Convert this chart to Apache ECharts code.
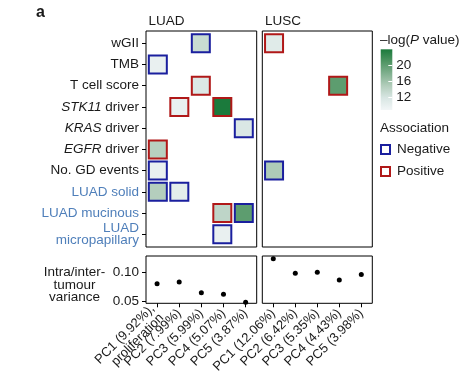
<!DOCTYPE html>
<html>
<head>
<meta charset="utf-8">
<script src="https://cdn.jsdelivr.net/npm/echarts@6/dist/echarts.min.js"></script>
<style>html,body{margin:0;padding:0;background:#fff;}#c{width:473px;height:381px;}</style>
</head>
<body>
<div id="c"></div>
<script>
// ---- data ----
const rows = ['wGII', 'TMB', 'T cell score', 'STK11 driver', 'KRAS driver', 'EGFR driver',
  'No. GD events', 'LUAD solid', 'LUAD mucinous', 'LUAD\nmicropapillary'];
const italicGenes = ['STK11', 'KRAS', 'EGFR'];
const luadPCs = ['PC1 (9.92%),\nproliferation', 'PC2 (7.99%)', 'PC3 (5.99%)', 'PC4 (5.07%)', 'PC5 (3.87%)'];
const luscPCs = ['PC1 (12.06%)', 'PC2 (6.42%)', 'PC3 (5.35%)', 'PC4 (4.43%)', 'PC5 (3.98%)'];
// [PC index, row index, -log(P value)]
const luadNegative = [[2, 0, 13], [0, 1, 9.8], [4, 4, 11.5], [0, 6, 9.8], [0, 7, 14.6], [1, 7, 10.5], [4, 8, 20], [3, 9, 9.8]];
const luadPositive = [[2, 2, 11.3], [1, 3, 9.8], [3, 3, 23.9], [0, 5, 14.4], [3, 8, 13.8]];
const luscNegative = [[0, 6, 15]];
const luscPositive = [[0, 0, 10.8], [3, 2, 20]];
const luadVariance = [0.0806, 0.0836, 0.0647, 0.0618, 0.048];
const luscVariance = [0.1247, 0.0989, 0.1007, 0.0871, 0.097];
const varianceTicks = [0.05, 0.10];
const colorbarTicks = [12, 16, 20];
const rowIdx = [0, 1, 2, 3, 4, 5, 6, 7, 8, 9];

// ---- style ----
const FF = 'Liberation Sans, Arial, Helvetica, sans-serif';
const TXT = '#1a1a1a';
const BLUE_TXT = '#4f7fba';
const NEG = '#1a1f9e';
const POS = '#b01818';
const scaleColors = ['#f2f6f7', '#d8e6e3', '#b2cdbb', '#80b08f', '#4f9563', '#1b7a3c'];
const cbMin = 8.7, cbMax = 23.9;
const FS = 13.5;

const chart = echarts.init(document.getElementById('c'), null, {renderer: 'canvas'});

function rowLabel(v) {
  const lab = rows[Math.round(v)];
  if (lab === undefined) return '';
  if (lab.startsWith('LUAD')) return lab.split('\n').map(s => '{b|' + s + '}').join('\n');
  for (const g of italicGenes) {
    if (lab.startsWith(g + ' ')) return '{i|' + g + '}{n|' + lab.slice(g.length) + '}';
  }
  return '{n|' + lab + '}';
}

const noLine = {show: false, onZero: false};
const noAxis = {axisLine: noLine, axisTick: {show: false}, axisLabel: {show: false}, splitLine: {show: false}};
const boxGrid = {show: true, borderColor: '#000', borderWidth: 1, backgroundColor: 'transparent'};

const gradStops = scaleColors.slice().reverse().map((c, i, a) => ({offset: i / (a.length - 1), color: c}));

const tileStyle = (border) => ({borderColor: border, borderWidth: 2, opacity: 1});

const pcAxis = (gridIndex, labels) => ({
  type: 'category', gridIndex: gridIndex, data: labels, boundaryGap: true,
  axisLine: noLine, splitLine: {show: false},
  axisTick: {show: true, length: 4, alignWithLabel: true, interval: 0, lineStyle: {color: '#000'}},
  axisLabel: {show: true, interval: 0, rotate: 45, margin: 8, fontSize: 13, color: TXT, fontFamily: FF, lineHeight: 13}
});

const option = {
  animation: false,
  textStyle: {fontFamily: FF},
  grid: [
    Object.assign({left: 146, top: 31, width: 110.7, height: 216}, boxGrid),
    Object.assign({left: 262.3, top: 31, width: 110, height: 216}, boxGrid),
    Object.assign({left: 146, top: 256, width: 110.7, height: 47.3}, boxGrid),
    Object.assign({left: 262.3, top: 256, width: 110, height: 47.3}, boxGrid),
    {left: 380.7, top: 49.3, width: 11.6, height: 60.7, show: true, borderWidth: 0,
      backgroundColor: new echarts.graphic.LinearGradient(0, 0, 0, 1, gradStops)}
  ],
  xAxis: [
    Object.assign({type: 'value', gridIndex: 0, min: -0.55, max: 4.6}, noAxis),
    Object.assign({type: 'value', gridIndex: 1, min: -0.55, max: 4.6}, noAxis),
    pcAxis(2, luadPCs),
    pcAxis(3, luscPCs),
    Object.assign({type: 'value', gridIndex: 4, min: 0, max: 1}, noAxis)
  ],
  yAxis: [
    {type: 'value', gridIndex: 0, inverse: true, min: -0.58, max: 9.6, axisLine: noLine, splitLine: {show: false},
      axisTick: {show: true, length: 4, customValues: rowIdx, lineStyle: {color: '#000'}},
      axisLabel: {show: true, customValues: rowIdx, margin: 7, formatter: rowLabel,
        showMinLabel: true, showMaxLabel: true,
        rich: {
          n: {fontSize: FS, color: TXT, fontFamily: FF},
          i: {fontSize: FS, color: TXT, fontFamily: FF, fontStyle: 'italic'},
          b: {fontSize: FS, color: BLUE_TXT, fontFamily: FF, lineHeight: 12.5}
        }}},
    Object.assign({type: 'value', gridIndex: 1, inverse: true, min: -0.58, max: 9.6}, noAxis),
    {type: 'value', gridIndex: 2, min: 0.046, max: 0.1295, axisLine: noLine, splitLine: {show: false},
      axisTick: {show: true, length: 4, customValues: varianceTicks, lineStyle: {color: '#000'}},
      axisLabel: {show: true, customValues: varianceTicks, margin: 7, fontSize: FS, color: TXT, fontFamily: FF,
        showMinLabel: true, showMaxLabel: true, formatter: v => v.toFixed(2)}},
    Object.assign({type: 'value', gridIndex: 3, min: 0.046, max: 0.1295}, noAxis),
    {type: 'value', gridIndex: 4, position: 'right', min: cbMin, max: cbMax, axisLine: noLine, splitLine: {show: false},
      axisTick: {show: true, inside: true, length: 4, customValues: colorbarTicks, lineStyle: {color: '#fff', width: 1}},
      axisLabel: {show: true, customValues: colorbarTicks, margin: 4, fontSize: FS, color: TXT, fontFamily: FF}}
  ],
  visualMap: {
    type: 'continuous', show: false, min: cbMin, max: cbMax, dimension: 2, seriesIndex: [0, 1, 2, 3],
    inRange: {color: scaleColors}
  },
  legend: {
    left: 380, top: 142.5, orient: 'vertical', itemWidth: 9, itemHeight: 9, itemGap: 8, selectedMode: false,
    padding: 0, textStyle: {fontSize: FS, color: TXT, fontFamily: FF, padding: [0, 0, 0, 2]},
    data: [
      {name: 'Negative', icon: 'rect', itemStyle: {color: '#fff', borderColor: NEG, borderWidth: 2}},
      {name: 'Positive', icon: 'rect', itemStyle: {color: '#fff', borderColor: POS, borderWidth: 2}}
    ]
  },
  series: [
    {name: 'Negative', type: 'scatter', xAxisIndex: 0, yAxisIndex: 0, symbol: 'rect', symbolSize: 18,
      itemStyle: tileStyle(NEG), data: luadNegative},
    {name: 'Positive', type: 'scatter', xAxisIndex: 0, yAxisIndex: 0, symbol: 'rect', symbolSize: 18,
      itemStyle: tileStyle(POS), data: luadPositive},
    {name: 'Negative', type: 'scatter', xAxisIndex: 1, yAxisIndex: 1, symbol: 'rect', symbolSize: 18,
      itemStyle: tileStyle(NEG), data: luscNegative},
    {name: 'Positive', type: 'scatter', xAxisIndex: 1, yAxisIndex: 1, symbol: 'rect', symbolSize: 18,
      itemStyle: tileStyle(POS), data: luscPositive},
    {name: 'LUAD variance', type: 'scatter', xAxisIndex: 2, yAxisIndex: 2, symbolSize: 5,
      itemStyle: {color: '#000', opacity: 1}, data: luadVariance.map((v, i) => [i, v])},
    {name: 'LUSC variance', type: 'scatter', xAxisIndex: 3, yAxisIndex: 3, symbolSize: 5,
      itemStyle: {color: '#000', opacity: 1}, data: luscVariance.map((v, i) => [i, v])}
  ],
  graphic: [
    {type: 'text', x: 36, y: 12.5, style: {text: 'a', fontSize: 16, fontWeight: 'bold', fontFamily: FF, fill: TXT, verticalAlign: 'middle'}},
    {type: 'text', x: 148.5, y: 21.7, style: {text: 'LUAD', fontSize: FS, fontFamily: FF, fill: TXT, verticalAlign: 'middle'}},
    {type: 'text', x: 265, y: 21.7, style: {text: 'LUSC', fontSize: FS, fontFamily: FF, fill: TXT, verticalAlign: 'middle'}},
    {type: 'text', x: 380, y: 40, style: {text: '–log({i|P} value)', fontSize: FS, fontFamily: FF, fill: TXT, verticalAlign: 'middle',
      rich: {i: {fontStyle: 'italic', fontSize: FS, fontFamily: FF, fill: TXT}}}},
    {type: 'text', x: 380, y: 128, style: {text: 'Association', fontSize: FS, fontFamily: FF, fill: TXT, verticalAlign: 'middle'}},
    {type: 'text', x: 74.5, y: 284.9, style: {text: 'Intra/inter-\ntumour\nvariance', fontSize: FS, fontFamily: FF, fill: TXT,
      align: 'center', verticalAlign: 'middle', lineHeight: 12.2}}
  ]
};
chart.setOption(option);
</script>
</body>
</html>
